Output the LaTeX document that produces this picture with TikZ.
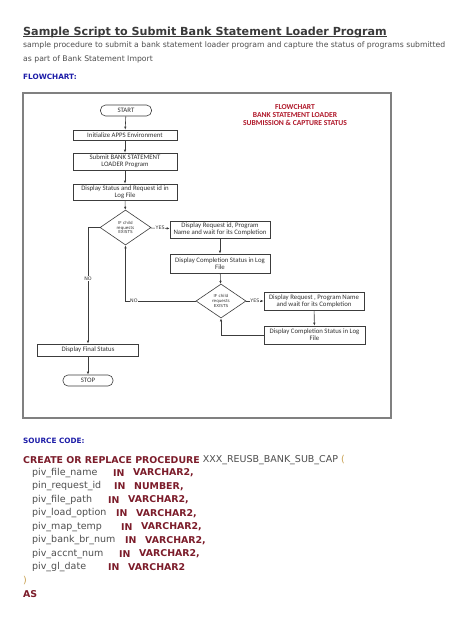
\documentclass[tikz,border=0pt]{standalone}
\usepackage{fontspec}
\setmainfont{DejaVu Sans}
\newfontfamily\chartfont{Carlito}
\usepackage{tikz}
\usetikzlibrary{positioning}
\usetikzlibrary{shapes.geometric}
\usetikzlibrary{arrows.meta}
\definecolor{headgray}{HTML}{3A3A3A}
\definecolor{textgray}{HTML}{4E4E4E}
\definecolor{labelblue}{HTML}{1C1CA8}
\definecolor{keyred}{HTML}{7C1C2A}
\definecolor{chartred}{HTML}{B0182A}
\definecolor{framegray}{HTML}{808080}
\definecolor{linegray}{HTML}{3C3C3C}
\definecolor{parengold}{HTML}{C8A050}
\tikzset{>={Latex[length=3pt,width=2.4pt]}}
\tikzset{
  procbox/.style={draw=linegray, line width=0.6pt, fill=white, align=center,
    inner sep=0.5pt, text=black!80, font=\chartfont\fontsize{6.8}{6.8}\selectfont},
  termbox/.style={procbox, rounded corners=5pt, minimum width=51pt, minimum height=11pt},
  decbox/.style={diamond, draw=linegray, line width=0.6pt, fill=white, align=center,
    inner sep=0pt, text=black!80, font=\fontsize{4.1}{4.8}\selectfont},
  flow/.style={->, draw=linegray, line width=0.6pt},
  tag/.style={font=\fontsize{4.8}{5}\selectfont, text=black!80, fill=white, inner sep=0.4pt},
  codetext/.style={anchor=west, inner sep=0pt, text=textgray, font=\fontsize{9.5}{11}\selectfont},
  codekey/.style={codetext, text=keyred, font=\bfseries\fontsize{9.4}{11}\selectfont}
}

\begin{document}
\begin{tikzpicture}[x=1pt,y=-1pt]

\useasboundingbox[fill=white] (0,0) rectangle (474,632);

% Heading
\node[anchor=base west, inner sep=0pt, text=headgray, font=\bfseries\fontsize{11.15}{13}\selectfont]
  (title) at (23,35) {Sample Script to Submit Bank Statement Loader Program};
\draw[headgray, line width=0.8pt] ([yshift=-1.6pt]title.base west) -- ([yshift=-1.6pt]title.base east);

% Short description
\node[anchor=west, inner sep=0pt, text=textgray, font=\fontsize{7.7}{9}\selectfont] (intro1) at (23,45)
  {sample procedure to submit a bank statement loader program and capture the status of programs submitted};
\node[anchor=west, inner sep=0pt, text=textgray, font=\fontsize{7.7}{9}\selectfont] (intro2) at (23,59)
  {as part of Bank Statement Import};

% Section label
\node[anchor=west, inner sep=0pt, text=labelblue, font=\bfseries\fontsize{7.3}{9}\selectfont] (fclabel) at (23,77) {FLOWCHART:};

% Frame of the chart
\draw[framegray, line width=1.3pt] (23,93) rectangle (391,418);

% Chart caption
\node[align=center, text=chartred, font=\chartfont\bfseries\fontsize{7.6}{8}\selectfont] (caption) at (295,115)
  {FLOWCHART\\BANK STATEMENT LOADER\\SUBMISSION \& CAPTURE STATUS};

% Main column
\node[termbox] (start) at (126,110.5) {START};
\node[procbox, minimum width=104pt, minimum height=10pt] (init) at (125,135) {Initialize APPS Environment};
\node[procbox, minimum width=104pt, minimum height=17pt] (submit) at (125,161.5) {Submit BANK STATEMENT\\LOADER Program};
\node[procbox, minimum width=104pt, minimum height=16pt] (status) at (125,192) {Display Status and Request id in\\Log File};
\node[decbox, minimum width=51pt, minimum height=35pt] (check1) at (125.5,227.5) {IF child\\requests\\EXISTS};

% First child branch
\node[procbox, minimum width=100pt, minimum height=17pt] (wait1) at (220,229.5) {Display Request id, Program\\Name and wait for its Completion};
\node[procbox, minimum width=100pt, minimum height=19pt] (done1) at (220,263.5) {Display Completion Status in Log\\File};
\node[decbox, minimum width=50pt, minimum height=34pt] (check2) at (221,301) {IF child\\requests\\EXISTS};

% Second child branch
\node[procbox, minimum width=100pt, minimum height=18pt] (wait2) at (314,301) {Display Request , Program Name\\and wait for its Completion};
\node[procbox, minimum width=101pt, minimum height=18pt] (done2) at (314.5,335) {Display Completion Status in Log\\File};

% End of chart
\node[procbox, minimum width=101pt, minimum height=12pt] (final) at (88,350) {Display Final Status};
\node[termbox, minimum width=50pt] (stop) at (88,380.5) {STOP};

% Arrows
\draw[flow] (start) -- (init);
\draw[flow] (init) -- (submit);
\draw[flow] (submit) -- (status);
\draw[flow] (status) -- (check1);
\draw[flow] (check1) -- node[tag] {YES} (wait1);
\draw[flow] (wait1) -- (done1);
\draw[flow] (done1) -- (check2);
\draw[flow] (check2) -- node[tag] {YES} (wait2);
\draw[flow] (wait2) -- (done2);
\draw[flow] (done2) -| (check2.south);
\draw[flow] (check2) -| node[tag, pos=0.44] {NO} (check1.south);
\draw[flow] (check1) -| node[tag, pos=0.72] {NO} (final.north);
\draw[flow] (final) -- (stop);

% Source code label
\node[anchor=west, inner sep=0pt, text=labelblue, font=\bfseries\fontsize{7.3}{9}\selectfont] (srclabel) at (23,441) {SOURCE CODE:};

% Procedure header
\node[codekey] (head) at (23,460) {CREATE OR REPLACE PROCEDURE};
\node[codetext, right=2.5pt of head] (procname) {XXX\_REUSB\_BANK\_SUB\_CAP \textcolor{parengold}{(}};

% Parameters
\foreach \pname/\inx/\ptype [count=\i] in {
    piv\_file\_name/113/{VARCHAR2,},
    pin\_request\_id/114/{NUMBER,},
    piv\_file\_path/108/{VARCHAR2,},
    piv\_load\_option/116/{VARCHAR2,},
    piv\_map\_temp/121/{VARCHAR2,},
    piv\_bank\_br\_num/125/{VARCHAR2,},
    piv\_accnt\_num/119/{VARCHAR2,},
    piv\_gl\_date/108/{VARCHAR2}}{
  \node[codetext] (par\i) at (32,459.5+13.5*\i) {\pname};
  \node[codekey] (in\i) at (\inx,459.5+13.5*\i) {IN};
  \node[codekey] (type\i) at (\inx+20,459.5+13.5*\i) {\ptype};
}

% Closing lines
\node[codetext, text=parengold] (close) at (23,581) {)};
\node[codekey] (as) at (23,594) {AS};

\end{tikzpicture}
\end{document}
